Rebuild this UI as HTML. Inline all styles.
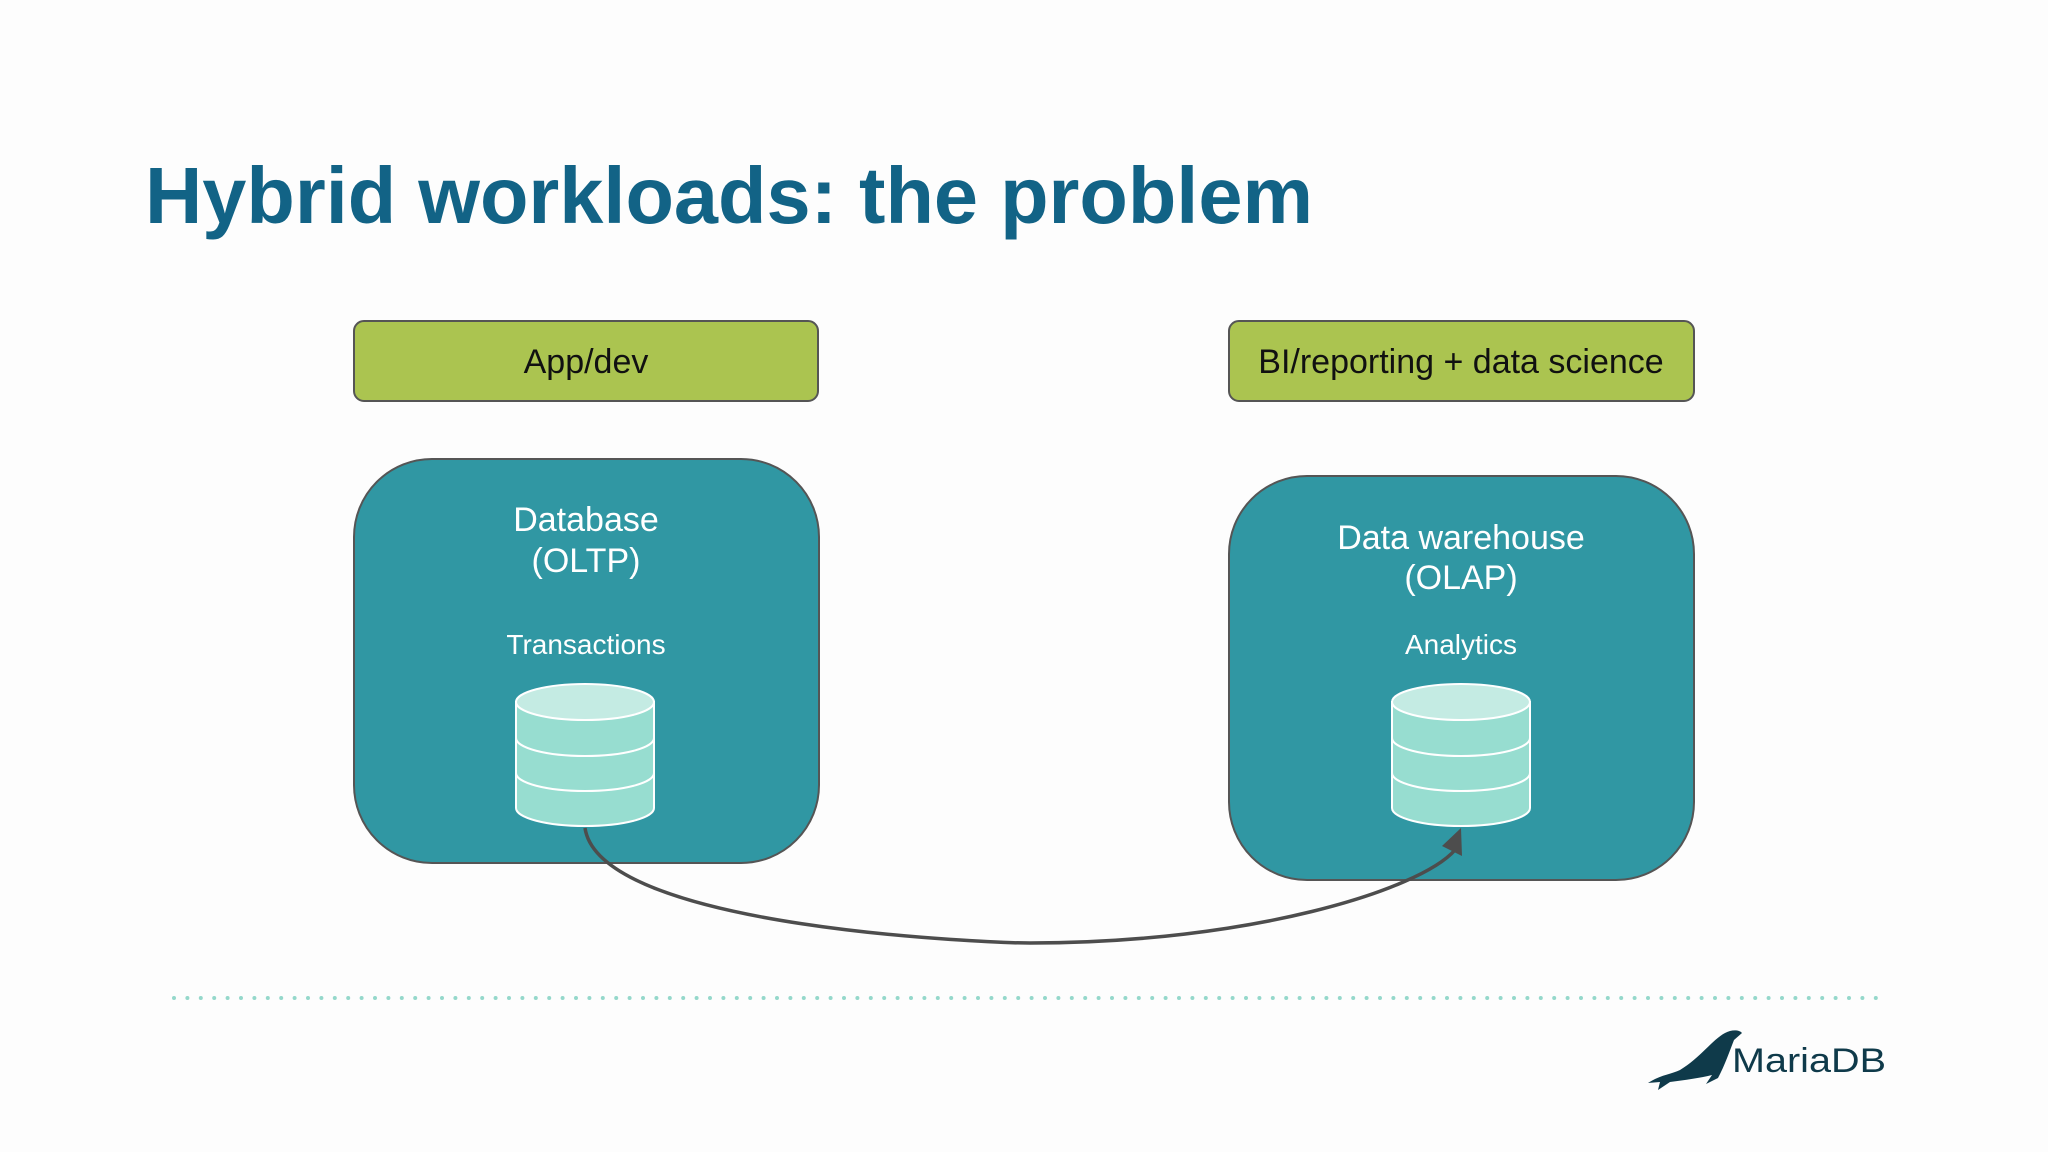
<!DOCTYPE html>
<html><head><meta charset="utf-8"><style>
html,body{margin:0;padding:0;background:#fdfdfd;}
svg{display:block}
text{font-family:"Liberation Sans",Arial,sans-serif}
</style></head><body>
<svg width="2048" height="1152" viewBox="0 0 2048 1152" xmlns="http://www.w3.org/2000/svg">
<rect width="2048" height="1152" fill="#fdfdfd"/>
<text x="145" y="223" font-size="80" font-weight="bold" fill="#126386" textLength="1168" lengthAdjust="spacingAndGlyphs">Hybrid workloads: the problem</text>

<rect x="354" y="321" width="464" height="80" rx="10" fill="#abc450" stroke="#555" stroke-width="2"/>
<text x="586" y="373" font-size="34" text-anchor="middle" fill="#111">App/dev</text>
<rect x="1229" y="321" width="465" height="80" rx="10" fill="#abc450" stroke="#555" stroke-width="2"/>
<text x="1461" y="373" font-size="34" text-anchor="middle" fill="#111">BI/reporting + data science</text>

<rect x="354" y="459" width="465" height="404" rx="78" fill="#3097a3" stroke="#555" stroke-width="2"/>
<rect x="1229" y="476" width="465" height="404" rx="78" fill="#3097a3" stroke="#555" stroke-width="2"/>
<g fill="#fff" text-anchor="middle">
<text x="586" y="531" font-size="34">Database</text>
<text x="586" y="572" font-size="34">(OLTP)</text>
<text x="586" y="654" font-size="28">Transactions</text>
<text x="1461" y="549" font-size="34">Data warehouse</text>
<text x="1461" y="589" font-size="34">(OLAP)</text>
<text x="1461" y="654" font-size="28">Analytics</text>
</g>

<g id="cyl" stroke="#fff" stroke-width="2">
<path d="M516 702 L516 808 A69 18 0 0 0 654 808 L654 702 Z" fill="#97ddd0"/>
<path d="M516 738 A69 18 0 0 0 654 738" fill="none"/>
<path d="M516 773 A69 18 0 0 0 654 773" fill="none"/>
<ellipse cx="585" cy="702" rx="69" ry="18" fill="#c4ebe3"/>
</g>
<use href="#cyl" transform="translate(876,0)"/>

<path d="M585 828 C600 930 1000 943 1030 943 C1250 943 1420 890 1455 850" fill="none" stroke="#4d4d4d" stroke-width="3.5"/>
<polygon points="1461,828 1442,846 1462,856" fill="#4d4d4d"/>

<line x1="174" y1="998" x2="1885" y2="998" stroke="#95d8cb" stroke-width="4" stroke-linecap="round" stroke-dasharray="0 13.4"/>

<path d="M1648 1083 C1660 1075 1672 1074 1680 1070 C1700 1058 1712 1040 1725 1033 C1732 1029 1740 1030 1742 1033 L1734 1040 C1730 1050 1725 1065 1718 1078 L1706 1084 L1712 1075 C1700 1078 1685 1080 1670 1082 L1658 1090 L1660 1082 Z" fill="#0f3a4a"/>
<text x="1732" y="1072" font-size="34" fill="#0f3a4a" textLength="154" lengthAdjust="spacingAndGlyphs">Maria<tspan>DB</tspan></text>
</svg>
</body></html>
